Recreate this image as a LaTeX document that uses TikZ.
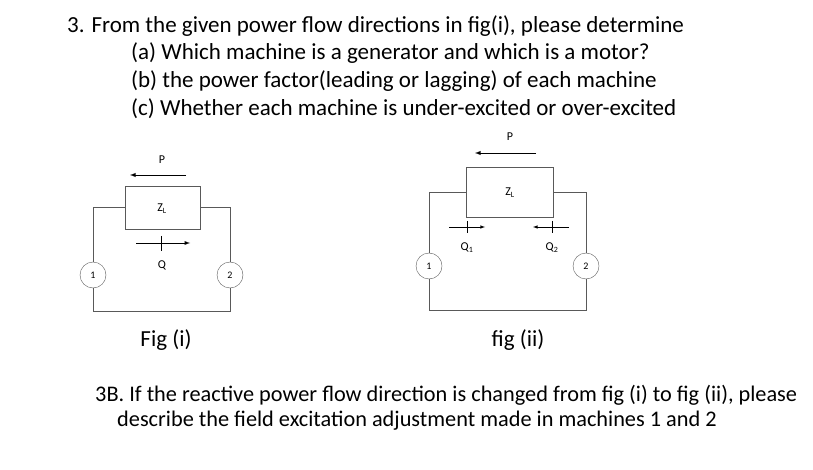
\documentclass[tikz,border=0pt]{standalone}
\usepackage{fontspec}
\setmainfont{Carlito}
\begin{document}
\begin{tikzpicture}[x=1pt,y=-1pt,
  wire/.style={draw=gray!70!black,line width=0.6pt},
  mach/.style={circle,draw=gray!70!black,fill=white,minimum size=26pt,inner sep=0pt,font=\fontsize{10}{11}\selectfont},
  zbox/.style={draw=gray!70!black,fill=white,line width=0.6pt},
  arr/.style={-latex,line width=0.9pt},
  small/.style={font=\fontsize{12}{13}\selectfont},
  big/.style={anchor=west,inner sep=0pt,font=\fontsize{23}{26}\selectfont}]
\useasboundingbox (0,0) rectangle (813,470);
% text
\node[big] (t1) at (67,26) {3. From the given power flow directions in fig(i), please determine};
\node[big] (t2) at (131,53) {(a) Which machine is a generator and which is a motor?};
\node[big] (t3) at (131,81) {(b) the power factor(leading or lagging) of each machine};
\node[big] (t4) at (131,109) {(c) Whether each machine is under-excited or over-excited};
% fig i
\node[mach] (m1) at (93,275) {1};
\node[mach] (m2) at (230,275) {2};
\node[zbox,minimum width=75pt,minimum height=43pt] (z1) at (162.5,207.5) {};
\node[small] (zl1) at (162,209) {Z\textsubscript{L}};
\draw[wire] (z1.west) -- (93,207.5) -- (m1.north);
\draw[wire] (z1.east) -- (230,207.5) -- (m2.north);
\draw[wire] (m1.south) -- (93,311) -- (230,311) -- (m2.south);
\coordinate (pa1) at (186,175); \coordinate (pb1) at (130,175);
\draw[arr] (pa1) -- (pb1);
\node[small] (p1) at (162,160) {P};
\coordinate (qa) at (136,243); \coordinate (qb) at (190,243);
\draw[arr] (qa) -- (qb);
\draw[line width=0.9pt] (161,236) -- (161,251);
\node[small] (q) at (162,265) {Q};
\node[big,anchor=center] (f1) at (166,340) {Fig (i)};
% fig ii
\node[mach] (n1) at (429,266) {1};
\node[mach] (n2) at (586,266) {2};
\node[zbox,minimum width=87pt,minimum height=50pt] (z2) at (509.5,192) {};
\node[small] (zl2) at (510,193) {Z\textsubscript{L}};
\draw[wire] (z2.west) -- (429,192) -- (n1.north);
\draw[wire] (z2.east) -- (586,192) -- (n2.north);
\draw[wire] (n1.south) -- (429,310) -- (586,310) -- (n2.south);
\coordinate (pa2) at (536,153); \coordinate (pb2) at (475,153);
\draw[arr] (pa2) -- (pb2);
\node[small] (p2) at (510,137) {P};
\coordinate (q1a) at (449,227); \coordinate (q1b) at (485,227);
\draw[-latex,line width=0.6pt] (q1a) -- (q1b);
\draw[line width=0.6pt] (467,221) -- (467,233);
\node[small] (q1) at (467,248) {Q\textsubscript{1}};
\coordinate (q2a) at (569,227); \coordinate (q2b) at (533,227);
\draw[-latex,line width=0.6pt] (q2a) -- (q2b);
\draw[line width=0.6pt] (552,221) -- (552,233);
\node[small] (q2) at (552,248) {Q\textsubscript{2}};
\node[big,anchor=center] (f2) at (518,340) {fig (ii)};
% 3B
\node[big,font=\fontsize{22.3}{26}\selectfont] (b1) at (95,395) {3B. If the reactive power flow direction is changed from fig (i) to fig (ii), please};
\node[big,font=\fontsize{22.3}{26}\selectfont] (b2) at (117,421) {describe the field excitation adjustment made in machines 1 and 2};
\end{tikzpicture}
\end{document}
